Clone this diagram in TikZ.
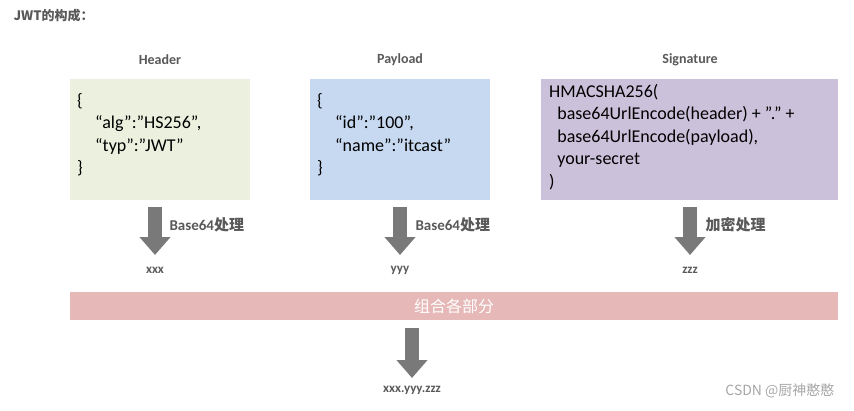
\documentclass[tikz,border=0pt]{standalone}
\usepackage{fontspec}
\setmainfont{Carlito}
\newfontfamily\cjk{Noto Sans CJK SC}
\usetikzlibrary{arrows.meta}
\definecolor{hdr}{HTML}{EBF1DE}
\definecolor{pay}{HTML}{C6D9F1}
\definecolor{sig}{HTML}{CCC1DA}
\definecolor{bar}{HTML}{E6B9B8}
\definecolor{ttl}{HTML}{595959}
\begin{document}
\begin{tikzpicture}[x=1pt,y=-1pt,
  ttl/.style={font=\bfseries\fontsize{14}{16}\selectfont,text=ttl},
  res/.style={font=\bfseries\fontsize{13}{15}\selectfont,text=ttl},
  code/.style={font=\fontsize{18}{22.5}\selectfont,anchor=north west,align=left,inner sep=0pt},
  lbl/.style={font=\bfseries\fontsize{15}{17}\selectfont,text=ttl,anchor=west},
  big/.style={draw=gray!95!black,line width=14pt,-{Triangle[width=30pt,length=18pt]}}]
\useasboundingbox (0,0) rectangle (854,410);
\node[anchor=west,font=\cjk\bfseries\fontsize{13}{15}\selectfont,text=ttl] (top) at (10,16) {JWT的构成：};
\fill[hdr] (70,79) rectangle (250,200);
\fill[pay] (310,79) rectangle (490,200);
\fill[sig] (541,79) rectangle (838,200);
\coordinate (h) at (155,200); \coordinate (p) at (400,200); \coordinate (s) at (690,200);
\node[ttl] (th) at (160,60) {Header};
\node[ttl] (tp) at (400,60) {Payload};
\node[ttl] (ts) at (690,60) {Signature};
\node[code] (ch) at (77,93) {\{\\\quad“alg”:”HS256”,\\\quad“typ”:”JWT”\\\}};
\node[code] (cp) at (317,93) {\{\\\quad“id”:”100”,\\\quad“name”:”itcast”\\\}};
\node[code] (cs) at (549,84) {HMACSHA256(\\\ \ base64UrlEncode(header) + \char"22.\char"22\ +\\\ \ base64UrlEncode(payload),\\\ \ your-secret\\)};
\node[res] (x) at (155,270) {xxx};
\node[res] (y) at (400,270) {yyy};
\node[res] (z) at (690,270) {zzz};
\draw[big] ([yshift=-7pt]h) -- ([yshift=-55pt]h);
\draw[big] ([yshift=-7pt]p) -- ([yshift=-55pt]p);
\draw[big] ([yshift=-7pt]s) -- ([yshift=-55pt]s);
\node[lbl] (l1) at (166,225) {Base64{\cjk 处理}};
\node[lbl] (l2) at (412,225) {Base64{\cjk 处理}};
\node[lbl] (l3) at (702,225) {\cjk 加密处理};
\fill[bar] (70,292) rectangle (838,320);
\node[font=\cjk\fontsize{16}{18}\selectfont,text=white] (b) at (454,306) {组合各部分};
\coordinate (bb) at (412,320);
\node[res] (f) at (412,390) {xxx.yyy.zzz};
\draw[big] ([yshift=-8pt]bb) -- ([yshift=-58pt]bb);
\node[anchor=east,font=\cjk\fontsize{14}{16}\selectfont,text=gray!70] (w) at (838,391) {CSDN @厨神憨憨};
\end{tikzpicture}
\end{document}
